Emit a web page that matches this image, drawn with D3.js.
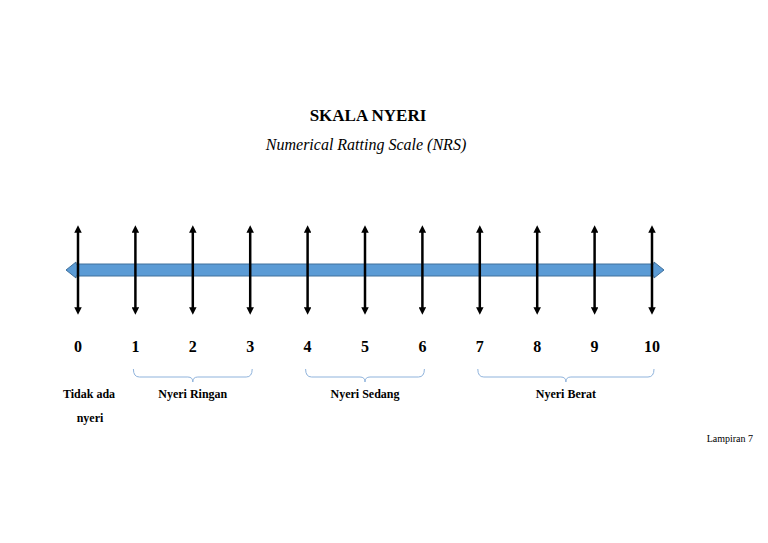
<!DOCTYPE html>
<html><head><meta charset="utf-8">
<script src="https://cdn.jsdelivr.net/npm/d3@7"></script>
<style>body{margin:0;background:#fff}</style></head>
<body><svg id="c" width="768" height="543"></svg>
<script>
const ticks = [0,1,2,3,4,5,6,7,8,9,10];
const groupNames = ["Nyeri Ringan","Nyeri Sedang","Nyeri Berat"];
const groupStart = [1,4,7];
const groupEnd = [3,6,10];
const svg = d3.select("#c");
const x = d3.scaleLinear().domain([0,10]).range([78,652]);
const F = "'Liberation Serif', 'Times New Roman', serif";
svg.append("text").attr("x",368).attr("y",121).attr("text-anchor","middle")
  .attr("font-family",F).attr("font-weight","bold").attr("font-size",17).text("SKALA NYERI");
svg.append("text").attr("x",366).attr("y",150).attr("text-anchor","middle")
  .attr("font-family",F).attr("font-style","italic").attr("font-size",16).text("Numerical Ratting Scale (NRS)");
// double arrow bar
const x0 = x(0)-12, x1 = x(10)+12, y=270, h=6, hw=8, hl=10;
svg.append("path").attr("d",`M${x0},${y} L${x0+hl},${y-hw} L${x0+hl},${y-h} L${x1-hl},${y-h} L${x1-hl},${y-hw} L${x1},${y} L${x1-hl},${y+hw} L${x1-hl},${y+h} L${x0+hl},${y+h} L${x0+hl},${y+hw} Z`)
  .attr("fill","#5b9bd5").attr("stroke","#41719c").attr("stroke-width",1);
const defs = svg.append("defs");
defs.append("marker").attr("id","ah").attr("viewBox","0 0 10 10").attr("refX",5).attr("refY",5)
  .attr("markerWidth",3).attr("markerHeight",3).attr("orient","auto-start-reverse")
  .append("path").attr("d","M0,0 L10,5 L0,10 Z").attr("fill","#000");
svg.selectAll("line.t").data(ticks).join("line").attr("class","t")
  .attr("x1",d=>x(d)).attr("x2",d=>x(d)).attr("y1",229).attr("y2",311)
  .attr("stroke","#000").attr("stroke-width",2.5)
  .attr("marker-start","url(#ah)").attr("marker-end","url(#ah)");
svg.selectAll("text.n").data(ticks).join("text").attr("class","n")
  .attr("x",d=>x(d)).attr("y",352).attr("text-anchor","middle")
  .attr("font-family",F).attr("font-weight","bold").attr("font-size",16).text(d=>d);
// braces
groupNames.forEach((g,i)=>{
  const a=x(groupStart[i])-2, b=x(groupEnd[i])+2, m=(a+b)/2;
  svg.append("path").attr("d",`M${a},369 Q${a},377 ${a+6},377 L${m-5},377 Q${m},377 ${m},382 Q${m},377 ${m+5},377 L${b-6},377 Q${b},377 ${b},369`)
    .attr("fill","none").attr("stroke","#8fb3dc").attr("stroke-width",1);
  svg.append("text").attr("x",m).attr("y",398).attr("text-anchor","middle")
    .attr("font-family",F).attr("font-weight","bold").attr("font-size",12).text(g);
});
svg.append("text").attr("x",89).attr("y",398).attr("text-anchor","middle")
  .attr("font-family",F).attr("font-weight","bold").attr("font-size",12).text("Tidak ada");
svg.append("text").attr("x",90).attr("y",422).attr("text-anchor","middle")
  .attr("font-family",F).attr("font-weight","bold").attr("font-size",12).text("nyeri");
svg.append("text").attr("x",753).attr("y",442).attr("text-anchor","end")
  .attr("font-family",F).attr("font-size",10).text("Lampiran 7");
</script></body></html>
